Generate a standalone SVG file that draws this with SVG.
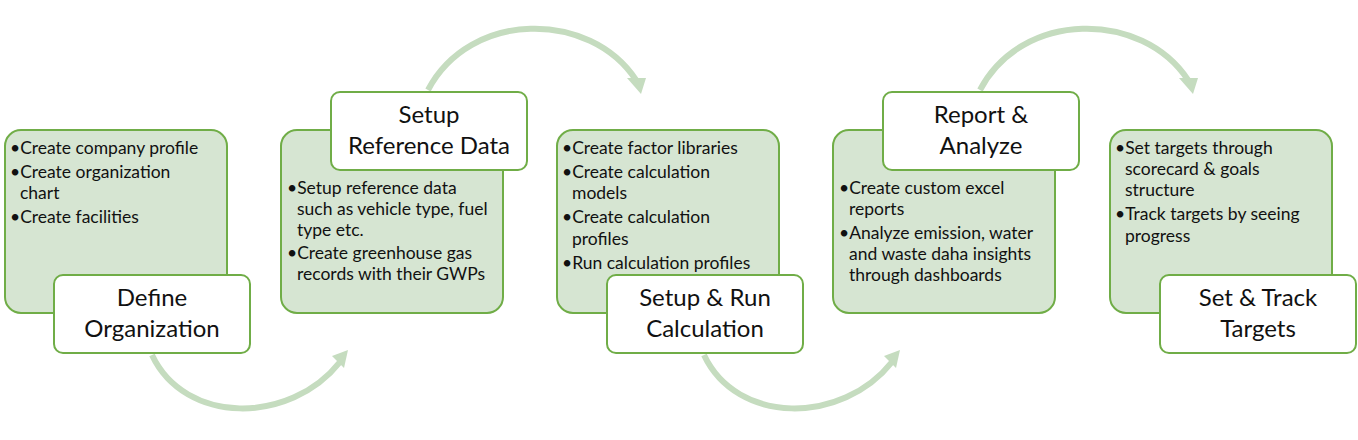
<svg xmlns="http://www.w3.org/2000/svg" width="1358" height="440" viewBox="0 0 1358 440">
<style>
.g{fill:#d6e5d2;stroke:#70ad47;stroke-width:2}
.w{fill:#fff;stroke:#70ad47;stroke-width:2}
.t{font-family:Lato,"Open Sans",sans-serif;font-size:17.5px;fill:#111}
.h{font-family:Lato,"Open Sans",sans-serif;font-size:24px;fill:#111;text-anchor:middle}
.a{fill:none;stroke:#c5dcbf;stroke-width:6}
.ah{fill:#c5dcbf}
</style>
<rect width="1358" height="440" fill="#fff"/>
<g id="connectors">
<path class="a" d="M152,355 C185,425 290,425 340,362"/><polygon class="ah" points="332,356 348,350 344,368"/>
<path class="a" d="M428,90 C470,10 590,10 636,80"/><polygon class="ah" points="627,78 646,78 641,94"/>
<path class="a" d="M704,355 C737,425 842,425 892,362"/><polygon class="ah" points="884,356 900,350 896,368"/>
<path class="a" d="M980,90 C1022,10 1142,10 1188,80"/><polygon class="ah" points="1179,78 1198,78 1193,94"/>
</g>
<g id="n1"><rect class="g" x="5" y="130" width="222" height="183" rx="16"/>
<text class="t" x="10" y="154">•Create company profile</text>
<text class="t" x="10" y="178">•Create organization</text>
<text class="t" x="20" y="199">chart</text>
<text class="t" x="10" y="223">•Create facilities</text></g>
<g id="n1l"><rect class="w" x="54" y="275" width="196" height="78" rx="9"/>
<text class="h" x="152" y="306">Define</text><text class="h" x="152" y="337">Organization</text></g>
<g id="n2"><rect class="g" x="281" y="130" width="222" height="183" rx="16"/>
<text class="t" x="287" y="194">•Setup reference data</text>
<text class="t" x="297" y="215">such as vehicle type, fuel</text>
<text class="t" x="297" y="236">type etc.</text>
<text class="t" x="287" y="259">•Create greenhouse gas</text>
<text class="t" x="297" y="280">records with their GWPs</text></g>
<g id="n2l"><rect class="w" x="331" y="92" width="196" height="78" rx="9"/>
<text class="h" x="429" y="123">Setup</text><text class="h" x="429" y="154">Reference Data</text></g>
<g id="n3"><rect class="g" x="557" y="130" width="222" height="183" rx="16"/>
<text class="t" x="562" y="154">•Create factor libraries</text>
<text class="t" x="562" y="178">•Create calculation</text>
<text class="t" x="572" y="199">models</text>
<text class="t" x="562" y="223">•Create calculation</text>
<text class="t" x="572" y="245">profiles</text>
<text class="t" x="562" y="269">•Run calculation profiles</text></g>
<g id="n3l"><rect class="w" x="607" y="275" width="196" height="78" rx="9"/>
<text class="h" x="705" y="306">Setup &amp; Run</text><text class="h" x="705" y="337">Calculation</text></g>
<g id="n4"><rect class="g" x="833" y="130" width="222" height="183" rx="16"/>
<text class="t" x="839" y="194">•Create custom excel</text>
<text class="t" x="849" y="215">reports</text>
<text class="t" x="839" y="239">•Analyze emission, water</text>
<text class="t" x="849" y="260">and waste daha insights</text>
<text class="t" x="849" y="281">through dashboards</text></g>
<g id="n4l"><rect class="w" x="883" y="92" width="196" height="78" rx="9"/>
<text class="h" x="981" y="123">Report &amp;</text><text class="h" x="981" y="154">Analyze</text></g>
<g id="n5"><rect class="g" x="1110" y="130" width="222" height="183" rx="16"/>
<text class="t" x="1115" y="154">•Set targets through</text>
<text class="t" x="1125" y="175">scorecard &amp; goals</text>
<text class="t" x="1125" y="196">structure</text>
<text class="t" x="1115" y="220">•Track targets by seeing</text>
<text class="t" x="1125" y="242">progress</text></g>
<g id="n5l"><rect class="w" x="1160" y="275" width="196" height="78" rx="9"/>
<text class="h" x="1258" y="306">Set &amp; Track</text><text class="h" x="1258" y="337">Targets</text></g>
</svg>
